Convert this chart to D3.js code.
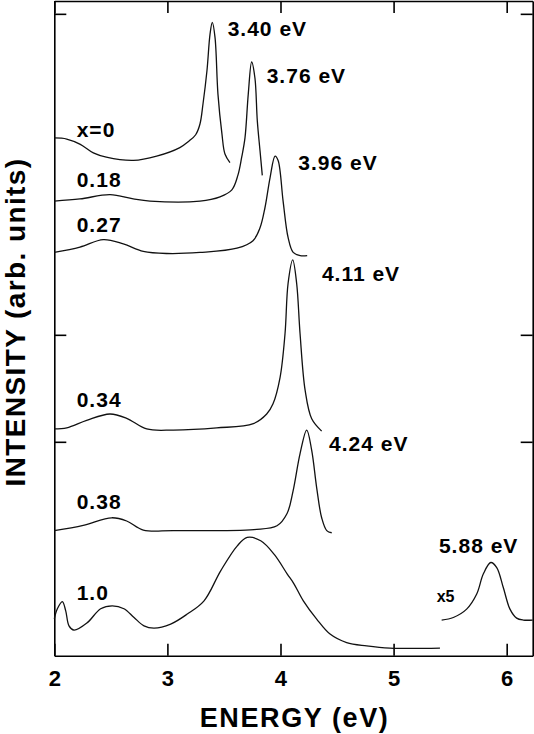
<!DOCTYPE html>
<html>
<head>
<meta charset="utf-8">
<script src="https://cdn.jsdelivr.net/npm/d3@7"></script>
<style>
  html, body { margin: 0; padding: 0; background: #fff; }
  svg text { font-family: "Liberation Sans", Arial, sans-serif; font-weight: bold; fill: #000; }
</style>
</head>
<body>
<svg class="spectra-chart" width="534" height="734"></svg>
<script>
// energy (eV), intensity (arb. units, curves already offset)
var seriesNames = ['x=0', '0.18', '0.27', '0.34', '0.38', '1.0'];

var curveX0 = [[2.00,4.84],[2.11,4.83],[2.23,4.78],[2.345,4.70],[2.46,4.66],[2.70,4.63],[2.905,4.67],
  [3.11,4.75],[3.19,4.81],[3.25,4.87],[3.288,4.97],[3.315,5.16],[3.35,5.47],[3.377,5.81],[3.397,5.92],
  [3.421,5.78],[3.447,5.25],[3.482,4.88],[3.509,4.69],[3.553,4.61]];

var curveX018 = [[2.00,4.25],[2.227,4.27],[2.493,4.31],[2.698,4.27],[2.846,4.25],[3.288,4.25],[3.465,4.29],
  [3.57,4.355],[3.623,4.49],[3.657,4.66],[3.686,4.84],[3.715,5.25],[3.745,5.55],[3.774,5.40],
  [3.795,5.00],[3.819,4.72],[3.839,4.49]];

var curveX027 = [[2.00,3.77],[2.227,3.82],[2.433,3.89],[2.61,3.85],[2.787,3.78],[2.994,3.76],[3.288,3.77],
  [3.615,3.81],[3.757,3.88],[3.819,4.00],[3.863,4.19],[3.908,4.47],[3.952,4.67],[3.979,4.63],
  [4.023,4.25],[4.067,3.91],[4.112,3.77],[4.174,3.74],[4.236,3.74]];

var curveX034 = [[2.00,2.12],[2.11,2.13],[2.286,2.20],[2.492,2.26],[2.64,2.22],[2.817,2.12],[3.052,2.11],
  [3.436,2.13],[3.76,2.17],[3.878,2.26],[3.934,2.355],[3.996,2.60],[4.04,3.01],[4.067,3.48],
  [4.108,3.70],[4.143,3.48],[4.173,3.01],[4.218,2.48],[4.276,2.215],[4.364,2.10]];

var curveX038 = [[2.00,1.17],[2.256,1.22],[2.508,1.29],[2.64,1.26],[2.787,1.175],[3.052,1.17],[3.766,1.18],
  [3.969,1.215],[4.058,1.33],[4.111,1.54],[4.173,1.89],[4.232,2.11],[4.276,1.92],[4.32,1.57],
  [4.364,1.29],[4.409,1.17],[4.453,1.15]];

var curveX10 = [[2.00,0.346],[2.027,0.44],[2.071,0.507],[2.101,0.42],[2.13,0.28],[2.174,0.24],[2.292,0.31],
  [2.41,0.44],[2.513,0.467],[2.616,0.44],[2.705,0.358],[2.793,0.28],[2.882,0.259],[3.029,0.296],
  [3.176,0.39],[3.324,0.514],[3.471,0.794],[3.618,1.028],[3.706,1.106],[3.825,1.075],[3.943,0.95],
  [4.06,0.764],[4.119,0.673],[4.202,0.514],[4.32,0.343],[4.438,0.203],[4.585,0.124],[4.762,0.093],
  [4.968,0.072],[5.41,0.072]];

// x=1.0 high energy part, multiplied by 5
var curveX10x5 = [[5.425,0.334],[5.528,0.358],[5.646,0.436],[5.735,0.577],[5.793,0.764],[5.859,0.872],
  [5.912,0.825],[5.97,0.638],[6.029,0.436],[6.088,0.352],[6.147,0.334],[6.23,0.334]];

var peakLabels = ['3.40 eV', '3.76 eV', '3.96 eV', '4.11 eV', '4.24 eV', '5.88 eV'];

var xTicks = [2, 3, 4, 5, 6];
var yTicks = [2, 3, 6];

(function SpectraChart() {

  'use strict';

  // vars
  var _svg = d3.select('.spectra-chart'),
    _left = 54.3,
    _right = 532.7,
    _top = 1,
    _bottom = 655.8,
    _tick = 12;

  var x = d3.scaleLinear().domain([2, 6.23]).range([_left, _right]);
  var y = d3.scaleLinear().domain([0, 6.12]).range([_bottom, _top]);

  // label anchors (energy, intensity) of left edge / baseline
  var peakLabelPos = [[3.533, 5.79], [3.878, 5.35], [4.157, 4.54], [4.366, 3.50], [4.429, 1.91], [5.401, 0.96]];
  var nameLabelPos = [4.85, 4.386, 3.965, 2.33, 1.37, 0.52];

  var line = d3.line()
    .x(function (d) { return x(d[0]); })
    .y(function (d) { return y(d[1]); })
    .curve(d3.curveCatmullRom.alpha(0.5));

  activate();

  function activate() {
    drawAxes();
    drawCurves();
    drawLabels();
  }

  function drawAxes() {
    var bottom = _svg.append('g')
      .attr('transform', 'translate(0,' + _bottom + ')')
      .call(d3.axisBottom(x).tickValues(xTicks).tickSizeInner(-_tick).tickSizeOuter(0)
        .tickPadding(14.5).tickFormat(d3.format('d')));
    bottom.selectAll('text').style('font-size', '22px');

    _svg.append('g')
      .attr('transform', 'translate(0,' + _top + ')')
      .call(d3.axisTop(x).tickValues(xTicks).tickSizeInner(-_tick).tickSizeOuter(0).tickFormat(''));

    _svg.append('g')
      .attr('transform', 'translate(' + _left + ',0)')
      .call(d3.axisLeft(y).tickValues(yTicks).tickSizeInner(-_tick).tickSizeOuter(0).tickFormat(''));

    _svg.append('g')
      .attr('transform', 'translate(' + _right + ',0)')
      .call(d3.axisRight(y).tickValues(yTicks).tickSizeInner(-_tick).tickSizeOuter(0).tickFormat(''));

    _svg.selectAll('.domain, .tick line')
      .attr('stroke', '#000')
      .attr('stroke-width', 1.6);

    _svg.append('text')
      .attr('x', 294.6)
      .attr('y', 727)
      .attr('text-anchor', 'middle')
      .style('font-size', '27px')
      .style('letter-spacing', '1.6px')
      .text('ENERGY (eV)');

    _svg.append('text')
      .attr('transform', 'translate(25,322) rotate(-90)')
      .attr('text-anchor', 'middle')
      .style('font-size', '28px')
      .style('letter-spacing', '1.4px')
      .text('INTENSITY (arb. units)');
  }

  function drawCurves() {
    var curves = [curveX0, curveX018, curveX027, curveX034, curveX038, curveX10, curveX10x5];

    _svg.append('g')
      .selectAll('path')
      .data(curves)
      .enter()
      .append('path')
      .attr('d', line)
      .attr('fill', 'none')
      .attr('stroke', '#111')
      .attr('stroke-width', 1.3)
      .attr('stroke-linejoin', 'round');
  }

  function drawLabels() {
    _svg.append('g')
      .selectAll('text')
      .data(seriesNames)
      .enter()
      .append('text')
      .attr('x', x(2.198))
      .attr('y', function (d, i) { return y(nameLabelPos[i]); })
      .style('font-size', '21px')
      .style('letter-spacing', '1px')
      .text(function (d) { return d; });

    _svg.append('g')
      .selectAll('text')
      .data(peakLabels)
      .enter()
      .append('text')
      .attr('x', function (d, i) { return x(peakLabelPos[i][0]); })
      .attr('y', function (d, i) { return y(peakLabelPos[i][1]); })
      .style('font-size', '21px')
      .style('letter-spacing', '1px')
      .text(function (d) { return d; });

    _svg.append('text')
      .attr('x', x(5.381))
      .attr('y', y(0.503))
      .style('font-size', '16px')
      .text('x5');
  }

})();
</script>
</body>
</html>
